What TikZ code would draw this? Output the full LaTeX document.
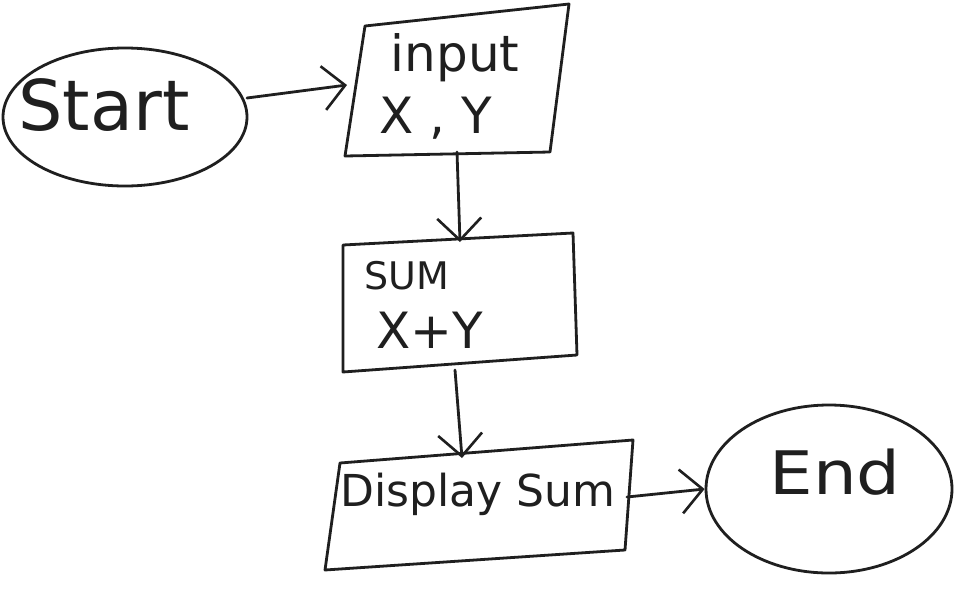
\documentclass[tikz,border=0pt]{standalone}
\usepackage{fontspec}
\setmainfont{DejaVu Sans}
\usetikzlibrary{arrows.meta,shapes.geometric}
\tikzset{
  ink/.style={draw=black!88, line width=2.8pt, line join=round, line cap=round},
  conn/.style={ink, -{Straight Barb[length=22pt,width=44pt,line width=2.6pt]}},
  txt/.style={text=black!88, inner sep=0pt},
}
\begin{document}
\begin{tikzpicture}[x=1pt,y=-1pt]
\useasboundingbox[fill=white] (0,0) rectangle (972,611);
% Start ellipse
\node[ink, ellipse, minimum width=244pt, minimum height=138pt] (start) at (125,117) {};
\node[txt, font=\fontsize{70}{80}\selectfont] (tstart) at (104,105) {Start};
% input parallelogram
\coordinate (i1) at (365,26); \coordinate (i2) at (569,4);
\coordinate (i3) at (550,152); \coordinate (i4) at (345,156);
\draw[ink] (i1) -- (i2) -- (i3) -- (i4) -- cycle;
\node[txt, font=\fontsize{50}{56}\selectfont] (tin1) at (455,58) {input};
\node[txt, font=\fontsize{50}{56}\selectfont] (tin2) at (436,118) {X , Y};
\coordinate (inl) at (347,85);
\coordinate (inb) at (457,152);
% sum rectangle
\coordinate (s1) at (343,245); \coordinate (s2) at (573,233);
\coordinate (s3) at (577,355); \coordinate (s4) at (343,372);
\draw[ink] (s1) -- (s2) -- (s3) -- (s4) -- cycle;
\node[txt, font=\fontsize{38}{42}\selectfont] (ts1) at (407,276) {SUM};
\node[txt, font=\fontsize{50}{56}\selectfont] (ts2) at (430,330) {X+Y};
\coordinate (st) at (460,242);
\coordinate (sb) at (455,370);
% display parallelogram
\coordinate (d1) at (340,463); \coordinate (d2) at (633,440);
\coordinate (d3) at (625,550); \coordinate (d4) at (325,570);
\draw[ink] (d1) -- (d2) -- (d3) -- (d4) -- cycle;
\node[txt, font=\fontsize{44}{50}\selectfont] (td) at (478,494) {Display Sum};
\coordinate (dt) at (462,458);
\coordinate (dr) at (627,497);
% End ellipse
\node[ink, ellipse, minimum width=246pt, minimum height=168pt] (endn) at (829,489) {};
\node[txt, font=\fontsize{60}{68}\selectfont\addfontfeature{FakeStretch=1.15}] (tend) at (835,472) {End};
% connectors
\draw[conn] (247,98) -- (inl);
\draw[conn] (inb) -- (st);
\draw[conn] (sb) -- (dt);
\draw[conn] (dr) -- (endn.west);
\end{tikzpicture}
\end{document}
